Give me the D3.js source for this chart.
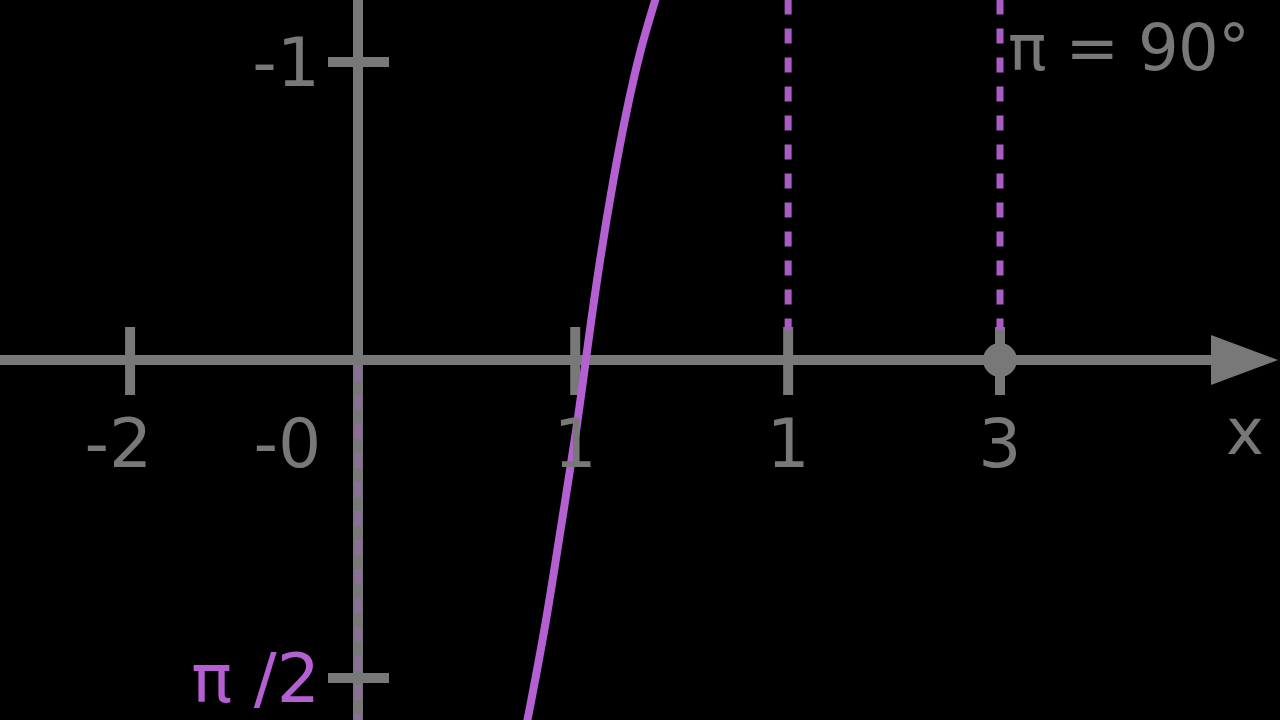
<!DOCTYPE html>
<html>
<head>
<meta charset="utf-8">
<script src="https://cdn.jsdelivr.net/npm/d3@7"></script>
<style>
  html, body { margin: 0; padding: 0; background: #000; }
  svg { display: block; }
  text { font-family: "DejaVu Sans", sans-serif; }
</style>
</head>
<body>
<script>
// ////////// Daten ////////////
var xTicks = [-1.065, 1.015, 2.01, 3.0];
var xLabels = ["-2", "-0", "1", "1", "3"];
var xLabelPos = [-1.12, -0.33, 1.015, 2.01, 3.0];
var yTicks = [1.0, -1.067];
var yLabels = ["-1", "π /2"];
var curveX = [1.392, 1.318, 1.255, 1.192, 1.131, 1.075, 1.023, 0.948, 0.880, 0.790];
var curveY = [1.215, 1.040, 0.839, 0.604, 0.340, 0.060, -0.230, -0.560, -0.880, -1.215];
var dashX = [2.01, 3.0];
var dotX = 3.0;
var title = "π = 90°";

// ////////// svg ////////////
var width = 1280, height = 720;
var grau = "#787878", lila = "#b460d2";

var svg = d3.select("body")
  .append("svg")
  .attr("width", width)
  .attr("height", height);

svg.append("rect").attr("width", width).attr("height", height).attr("fill", "#000");

var x = d3.scaleLinear().domain([0, 3]).range([358, 1000]);
var y = d3.scaleLinear().domain([0, 1]).range([360, 62]);

// ////////// Achsen ////////////
var achsen = svg.append("g").attr("stroke", grau).attr("stroke-width", 10);

achsen.append("line")
  .attr("x1", 0).attr("x2", 1215)
  .attr("y1", y(0)).attr("y2", y(0));
achsen.append("line")
  .attr("x1", x(0)).attr("x2", x(0))
  .attr("y1", 0).attr("y2", height);

achsen.selectAll("line.xtick")
  .data(xTicks)
  .enter()
  .append("line")
  .attr("class", "xtick")
  .attr("x1", function(d) {return x(d);})
  .attr("x2", function(d) {return x(d);})
  .attr("y1", y(0) - 33)
  .attr("y2", y(0) + 35);

achsen.selectAll("line.ytick")
  .data(yTicks)
  .enter()
  .append("line")
  .attr("class", "ytick")
  .attr("x1", x(0) - 30)
  .attr("x2", x(0) + 31)
  .attr("y1", function(d) {return y(d);})
  .attr("y2", function(d) {return y(d);});

// pfeil
svg.append("path")
  .attr("d", "M1211," + (y(0) - 25) + "L1278," + y(0) + "L1211," + (y(0) + 25) + "Z")
  .attr("fill", grau);

// ////////// gestrichelte Linien ////////////
svg.selectAll("line.dash")
  .data(dashX)
  .enter()
  .append("line")
  .attr("class", "dash")
  .attr("x1", function(d) {return x(d);})
  .attr("x2", function(d) {return x(d);})
  .attr("y1", y(1.21))
  .attr("y2", y(0.1))
  .attr("stroke", "#a95cc4")
  .attr("stroke-width", 7)
  .attr("stroke-dasharray", "15,14");

// auf der y-Achse (halb durchsichtig)
svg.append("line")
  .attr("x1", x(0)).attr("x2", x(0))
  .attr("y1", y(0) + 6).attr("y2", height)
  .attr("stroke", lila)
  .attr("stroke-opacity", 0.35)
  .attr("stroke-width", 7)
  .attr("stroke-dasharray", "15,14");

// punkt
svg.append("circle")
  .attr("cx", x(dotX)).attr("cy", y(0))
  .attr("r", 17)
  .attr("fill", grau);

// ////////// Kurve ////////////
var punkte = curveX.map(function(d, i) {return [d, curveY[i]];});
var linie = d3.line()
  .x(function(d) {return x(d[0]);})
  .y(function(d) {return y(d[1]);})
  .curve(d3.curveBasis);

svg.append("path")
  .datum(punkte)
  .attr("d", linie)
  .attr("fill", "none")
  .attr("stroke", lila)
  .attr("stroke-width", 8);

// ////////// Beschriftung ////////////
svg.selectAll("text.xlabel")
  .data(xLabels)
  .enter()
  .append("text")
  .attr("class", "xlabel")
  .attr("x", function(d, i) {return x(xLabelPos[i]);})
  .attr("y", y(0) + 107)
  .attr("text-anchor", "middle")
  .attr("font-size", 68)
  .attr("fill", grau)
  .text(function(d) {return d;});

svg.selectAll("text.ylabel")
  .data(yLabels)
  .enter()
  .append("text")
  .attr("class", "ylabel")
  .attr("x", x(0) - 38)
  .attr("y", function(d, i) {return y(yTicks[i]) + 24;})
  .attr("text-anchor", "end")
  .attr("font-size", 68)
  .attr("fill", function(d, i) {return i == 1 ? lila : grau;})
  .text(function(d) {return d;});

svg.append("text")
  .attr("x", 1245)
  .attr("y", y(0) + 94)
  .attr("text-anchor", "middle")
  .attr("font-size", 64)
  .attr("fill", grau)
  .text("x");

svg.append("text")
  .attr("x", 1008)
  .attr("y", 70)
  .attr("font-size", 64)
  .attr("textLength", 242)
  .attr("fill", grau)
  .text(title);
</script>
</body>
</html>
